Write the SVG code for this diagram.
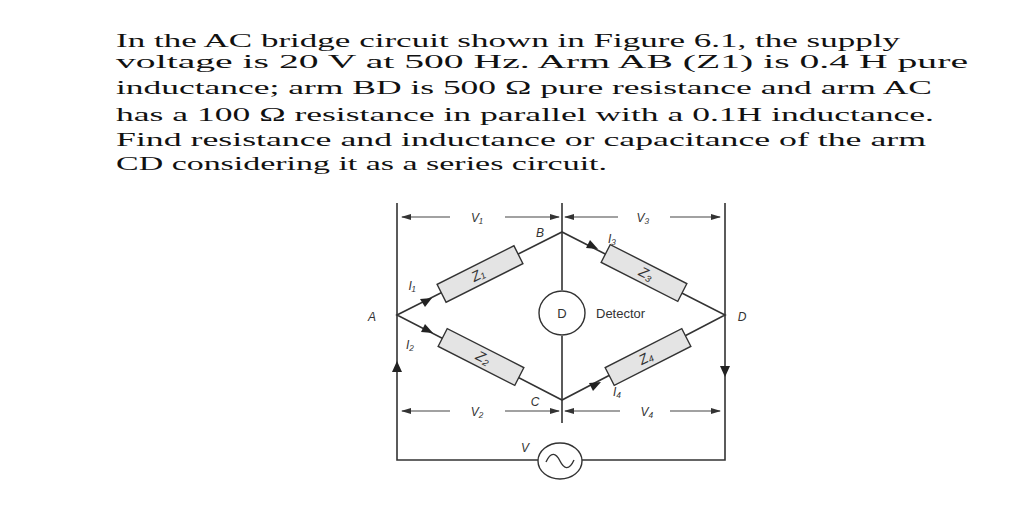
<svg xmlns="http://www.w3.org/2000/svg" width="1036" height="532" viewBox="0 0 1036 532">
<style>
.q{font-family:"Liberation Serif","DejaVu Serif",serif;font-size:19px;fill:#111}
.w{stroke:#333;stroke-width:1.6;fill:none}
.dim{stroke:#444;stroke-width:1.2;fill:none}
.l{font-family:"Liberation Sans",Arial,sans-serif;font-size:12px;font-style:italic;fill:#333}
.z{font-family:"Liberation Sans",Arial,sans-serif;font-size:14px;font-style:italic;fill:#333}
.n{font-family:"Liberation Sans",Arial,sans-serif;font-size:13px;fill:#333}
.box{fill:#e4e4e4;stroke:#333;stroke-width:1.4}
.ah{fill:#222}
</style>
<defs>
<marker id="da" markerWidth="10" markerHeight="8" refX="9" refY="4" orient="auto-start-reverse" markerUnits="userSpaceOnUse"><path d="M0,1 L10,4 L0,7 Z" fill="#333"/></marker>
</defs>
<rect width="1036" height="532" fill="#fff"/>
<g id="question">
<text class="q" x="116" y="47" textLength="784" lengthAdjust="spacingAndGlyphs">In the AC bridge circuit shown in Figure 6.1, the supply</text>
<text class="q" x="116" y="68" textLength="852" lengthAdjust="spacingAndGlyphs">voltage is 20 V at 500 Hz. Arm AB (Z1)    is 0.4 H pure</text>
<text class="q" x="116" y="94" textLength="816" lengthAdjust="spacingAndGlyphs">inductance; arm BD is 500 Ω pure resistance and arm AC</text>
<text class="q" x="116" y="121" textLength="818" lengthAdjust="spacingAndGlyphs">has a 100 Ω resistance in parallel with a 0.1H inductance.</text>
<text class="q" x="116" y="146" textLength="810" lengthAdjust="spacingAndGlyphs">Find resistance and inductance or capacitance of the arm</text>
<text class="q" x="116" y="170" textLength="491" lengthAdjust="spacingAndGlyphs">CD considering it as a series circuit.</text>
</g>
<g id="connectors">
<path class="w" d="M397,203 V460 H538 M582,460 H725 V203"/>
<path class="w" d="M562,203 V290 M562,336 V423"/>
<path class="w" d="M397,315 L562,232 L725,315 L562,400 Z"/>
<path class="dim" d="M402,217 H450 M505,217 H559" marker-start="url(#da)" marker-end="url(#da)"/>
<path class="dim" d="M565,217 H618 M670,217 H720" marker-start="url(#da)" marker-end="url(#da)"/>
<path class="dim" d="M402,411 H450 M505,411 H559" marker-start="url(#da)" marker-end="url(#da)"/>
<path class="dim" d="M565,411 H620 M670,411 H720" marker-start="url(#da)" marker-end="url(#da)"/>
<polygon class="ah" points="432,298 420,299 425,307"/>
<polygon class="ah" points="433,333 421,332 425,324"/>
<polygon class="ah" points="598,249 586,248 590,240"/>
<polygon class="ah" points="601,382 589,383 593,391"/>
<polygon class="ah" points="397,361 392,372 402,372"/>
<polygon class="ah" points="725,377 720,366 730,366"/>
</g>
<g id="Z1"><rect class="box" x="-43" y="-10" width="86" height="20" transform="translate(480,274) rotate(-26.7)"/><text class="z" transform="translate(480,279) rotate(-26.7)" text-anchor="middle">Z₁</text></g>
<g id="Z2"><rect class="box" x="-43" y="-10" width="86" height="20" transform="translate(481,357) rotate(27)"/><text class="z" transform="translate(481,362) rotate(27)" text-anchor="middle">Z₂</text></g>
<g id="Z3"><rect class="box" x="-43" y="-10" width="86" height="20" transform="translate(644,273) rotate(27)"/><text class="z" transform="translate(644,278) rotate(27)" text-anchor="middle">Z₃</text></g>
<g id="Z4"><rect class="box" x="-43" y="-10" width="86" height="20" transform="translate(648,357) rotate(-27)"/><text class="z" transform="translate(648,362) rotate(-27)" text-anchor="middle">Z₄</text></g>
<g id="detector"><ellipse cx="562" cy="313" rx="23" ry="22" fill="#fff" stroke="#333" stroke-width="1.4"/><text class="n" x="562" y="318" text-anchor="middle">D</text><text class="n" x="596" y="318">Detector</text></g>
<g id="source"><ellipse cx="560" cy="461" rx="22" ry="18" fill="#fff" stroke="#333" stroke-width="1.4"/><path d="M546,462 C551,451 556,453 560,461 C564,469 569,471 574,460" stroke="#333" stroke-width="1.4" fill="none"/></g>
<g id="labels">
<text class="l" x="477" y="222" text-anchor="middle">V₁</text>
<text class="l" x="643" y="222" text-anchor="middle">V₃</text>
<text class="l" x="477" y="416" text-anchor="middle">V₂</text>
<text class="l" x="647" y="416" text-anchor="middle">V₄</text>
<text class="l" x="540" y="237" text-anchor="middle">B</text>
<text class="l" x="535" y="406" text-anchor="middle">C</text>
<text class="l" x="372" y="321" text-anchor="middle">A</text>
<text class="l" x="742" y="321" text-anchor="middle">D</text>
<text class="l" x="412" y="290" text-anchor="middle">I₁</text>
<text class="l" x="410" y="349" text-anchor="middle">I₂</text>
<text class="l" x="612" y="243" text-anchor="middle">I₃</text>
<text class="l" x="617" y="396" text-anchor="middle">I₄</text>
<text class="l" x="525" y="452" text-anchor="middle">V</text>
</g>
</svg>
